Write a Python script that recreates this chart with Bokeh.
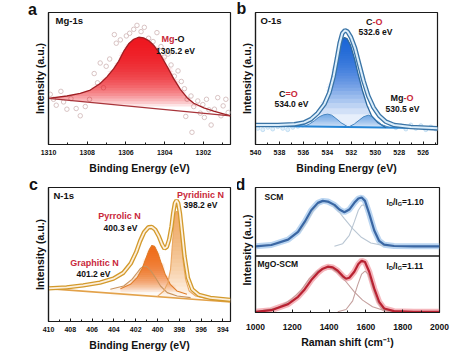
import numpy as np
from bokeh.plotting import figure
from bokeh.layouts import row, column
from bokeh.models import Range1d, FixedTicker, SingleIntervalTicker, Label, Span
from bokeh.embed import file_html
from bokeh.resources import INLINE

FONT = "Liberation Sans"
RED_TXT = "#c9283a"

# ---------------- (a) Mg-1s ----------------
mg_be = [1310.00, 1309.05, 1308.36, 1307.84, 1307.33, 1306.98, 1306.64, 1306.38, 1306.12, 1305.86,
         1305.60, 1305.34, 1305.09, 1304.83, 1304.57, 1304.22, 1303.88, 1303.53, 1303.19, 1302.84,
         1302.50, 1301.98, 1301.47, 1300.60]
mg_fit = [140, 147, 155, 165, 185, 205, 229, 252, 282, 305, 319, 325, 323, 315, 301, 272, 237, 199,
          167, 142, 125, 111, 101, 87]
mg_bg = [140.0, 134.7, 130.8, 127.8, 124.9, 123.0, 121.0, 119.6, 118.1, 116.7, 115.2, 113.7, 112.3,
         110.8, 109.4, 107.4, 105.5, 103.5, 101.6, 99.6, 97.7, 94.8, 91.9, 87.0]
mg_raw_be = [1309.91, 1309.74, 1309.60, 1309.36, 1309.22, 1309.05, 1308.84, 1308.57, 1308.36, 1308.10,
             1307.88, 1307.64, 1307.47, 1307.33, 1307.16, 1307.02, 1306.84, 1306.60, 1306.50, 1306.29,
             1305.98, 1305.81, 1305.60, 1305.43, 1305.22, 1305.05, 1304.83, 1304.60, 1304.40, 1304.19,
             1304.02, 1303.83, 1303.67, 1303.50, 1303.31, 1303.14, 1302.98, 1302.84, 1302.64, 1302.50,
             1302.29, 1302.16, 1302.03, 1301.95, 1301.84, 1301.71, 1301.60, 1301.43, 1301.26, 1301.09,
             1300.98, 1300.84, 1300.72, 1302.59, 1302.91]
mg_raw = [152, 137, 119, 161, 129, 107, 139, 109, 87, 115, 137, 215, 187, 247, 172, 237, 259, 333, 307,
          317, 329, 337, 349, 361, 342, 355, 322, 312, 339, 297, 265, 274, 241, 207, 223, 191, 169, 137,
          147, 115, 132, 95, 121, 82, 137, 105, 59, 107, 142, 87, 117, 137, 97, 37, 85]

# ---------------- (b) O-1s ----------------
o_be = [540.00, 538.14, 536.75, 535.92, 535.36, 534.81, 534.25, 533.83, 533.47, 533.19, 532.97, 532.75,
        532.53, 532.31, 532.03, 531.69, 531.33, 530.97, 530.58, 530.14, 529.67, 529.11, 528.42, 527.03,
        524.81]
o_fit = [59, 59, 61, 67, 77, 95, 122, 157, 207, 262, 307, 337, 346, 342, 325, 292, 242, 192, 147, 112,
         87, 69, 59, 53, 49]
o_bg_be = [540.0, 524.81]
o_bg = [57, 49]
o_co_be = [537.31, 536.19, 535.36, 534.67, 534.11, 533.69, 533.36, 533.08, 532.81, 532.58, 532.36,
           532.08, 531.75, 531.42, 531.06, 530.69, 530.31, 529.81, 529.11]
o_co = [56, 61, 72, 97, 137, 187, 242, 287, 317, 324, 321, 302, 262, 212, 162, 119, 87, 67, 51]
o_cdo_be = [535.92, 535.50, 535.08, 534.67, 534.31, 533.97, 533.64, 533.28, 532.86, 532.31]
o_cdo = [55, 62, 72, 84, 90, 92, 89, 79, 66, 54]
o_mgo_be = [532.17, 531.75, 531.33, 530.97, 530.58, 530.22, 529.86, 529.47, 528.83]
o_mgo = [54, 62, 74, 84, 89, 84, 72, 60, 52]
o_raw_be = [539.81, 539.39, 538.97, 538.56, 538.14, 537.72, 537.31, 536.89, 536.47, 536.06, 528.69,
            528.28, 527.86, 527.44, 527.03, 526.61, 526.19, 525.78, 525.36, 524.94]
o_raw = [49, 45, 52, 47, 54, 49, 45, 52, 55, 59, 62, 51, 57, 47, 59, 49, 57, 45, 53, 47]

# ---------------- (c) N-1s ----------------
n_be = [410.00, 408.34, 406.81, 405.28, 404.05, 403.13, 402.45, 401.96, 401.60, 401.23, 400.83, 400.52,
        400.21, 399.88, 399.57, 399.36, 399.14, 398.93, 398.71, 398.56, 398.40, 398.25, 398.10, 397.94,
        397.76, 397.52, 397.21, 396.81, 396.20, 395.15, 393.31]
n_fit = [100, 103, 109, 117, 129, 147, 175, 209, 242, 269, 284, 285, 277, 257, 232, 220, 225, 247, 287,
         327, 357, 365, 357, 327, 272, 197, 132, 97, 80, 71, 65]
n_bg_be = [410.0, 393.31]
n_bg = [99, 59]
n_pyr_be = [403.40, 402.48, 401.87, 401.41, 401.04, 400.74, 400.52, 400.28, 400.00, 399.69, 399.29,
            398.83, 398.22, 397.30]
n_pyr = [99, 112, 132, 159, 192, 217, 229, 227, 209, 179, 142, 112, 92, 82]
n_gra_be = [404.33, 403.10, 402.34, 401.87, 401.56, 401.26, 400.95, 400.58, 400.18, 399.72, 399.11,
            398.19, 396.96]
n_gra = [97, 107, 127, 147, 160, 167, 165, 152, 132, 107, 87, 77, 72]
n_pyd_be = [400.03, 399.42, 399.05, 398.80, 398.62, 398.47, 398.31, 398.16, 398.01, 397.85, 397.67,
            397.42, 397.09, 396.50, 395.43]
n_pyd = [75, 92, 117, 157, 237, 307, 331, 332, 312, 257, 187, 127, 92, 77, 69]

# ---------------- (d) Raman ----------------
scm_x = [1000, 1086, 1177, 1231, 1267, 1303, 1339, 1366, 1393, 1429, 1456, 1483, 1510, 1537, 1559,
         1577, 1595, 1618, 1645, 1672, 1699, 1753, 1861, 2000]
scm_fit = [29, 33, 49, 72, 102, 137, 159, 165, 163, 153, 139, 131, 139, 159, 172, 175, 165, 127, 77,
           45, 34, 30, 29, 29]
scm_d_x = [1000, 1123, 1195, 1249, 1285, 1321, 1357, 1378, 1411, 1447, 1483, 1528, 1573, 1627, 1699, 1807]
scm_d = [29, 37, 55, 77, 109, 142, 162, 164, 157, 137, 112, 82, 57, 39, 31, 29]
scm_g_x = [1429, 1474, 1510, 1537, 1559, 1577, 1591, 1609, 1627, 1649, 1672, 1708, 1771]
scm_g = [29, 37, 62, 102, 137, 152, 153, 139, 107, 67, 42, 32, 29]
mgo_x = [1000, 1086, 1177, 1231, 1267, 1303, 1339, 1366, 1393, 1420, 1447, 1474, 1492, 1510, 1537,
         1559, 1577, 1595, 1618, 1645, 1672, 1699, 1753, 1861, 2000]
mgo_fit = [2, 7, 25, 47, 69, 97, 119, 131, 137, 135, 125, 109, 101, 104, 122, 145, 155, 151, 122, 72,
           32, 12, 4, 2, 2]
mgo_d_x = [1000, 1123, 1195, 1249, 1294, 1339, 1378, 1411, 1447, 1492, 1537, 1582, 1636, 1699, 1807]
mgo_d = [2, 15, 39, 67, 102, 125, 135, 133, 119, 92, 62, 37, 17, 6, 2]
mgo_g_x = [1447, 1492, 1528, 1555, 1577, 1595, 1613, 1636, 1659, 1685, 1726, 1789]
mgo_g = [2, 9, 35, 82, 115, 124, 115, 77, 37, 12, 3, 2]
ratio_labels = ["1.10", "1.11"]
sample_labels = ["SCM", "MgO-SCM"]
panel_letters = ["a", "b", "c", "d"]


def make_fig(w, h, xr, yr, left, right, top, bottom, xlabel, interval, lab_standoff, title_standoff,
             tick_size="7px"):
    p = figure(width=w, height=h, x_range=Range1d(*xr), y_range=Range1d(*yr),
               output_backend="svg", toolbar_location=None,
               min_border_left=left, min_border_right=right,
               min_border_top=top, min_border_bottom=bottom)
    p.frame_align = False
    p.xgrid.visible = False
    p.ygrid.visible = False
    p.background_fill_color = "white"
    p.border_fill_color = "white"
    p.outline_line_color = "#1a1a1a"
    p.outline_line_width = 1.2
    p.outline_line_alpha = 1.0
    xa = p.xaxis[0]
    xa.ticker = SingleIntervalTicker(interval=interval, num_minor_ticks=2)
    xa.major_tick_in = 3
    xa.major_tick_out = 0
    xa.minor_tick_in = 2
    xa.minor_tick_out = 0
    xa.axis_line_width = 1.2
    xa.axis_line_color = "#1a1a1a"
    xa.major_tick_line_color = "#1a1a1a"
    xa.minor_tick_line_color = "#1a1a1a"
    xa.major_label_text_font = FONT
    xa.major_label_text_font_style = "bold"
    xa.major_label_text_font_size = tick_size
    xa.major_label_text_color = "#111111"
    xa.major_label_standoff = lab_standoff
    xa.axis_label = xlabel
    xa.axis_label_text_font = FONT
    xa.axis_label_text_font_style = "bold"
    xa.axis_label_text_font_size = "10.5px"
    xa.axis_label_text_color = "#111111"
    xa.axis_label_standoff = title_standoff
    ya = p.yaxis[0]
    ya.ticker = FixedTicker(ticks=[])
    ya.axis_line_width = 1.2
    ya.axis_line_color = "#1a1a1a"
    ya.axis_label = "Intensity (a.u.)"
    ya.axis_label_text_font = FONT
    ya.axis_label_text_font_style = "bold"
    ya.axis_label_text_font_size = "10.5px"
    ya.axis_label_text_color = "#111111"
    ya.axis_label_standoff = 3
    return p


def grad_fill(p, x, base, top, color, lo, hi, n=22, amax=0.93, power=1.0):
    x = np.asarray(x, dtype=float)
    top = np.asarray(top, dtype=float)
    base = np.asarray(base, dtype=float) if np.ndim(base) else np.full_like(top, base)
    a = 1 - (1 - amax) ** (1.0 / n)
    for k in range(n):
        lev = lo + (hi - lo) * (k / n) ** power
        y1 = np.maximum(base, lev)
        y2 = np.maximum(top, y1)
        p.varea(x=x, y1=y1, y2=y2, fill_color=color, fill_alpha=a)


def lab(p, x, y, text, size="8.5px", color="#111111", align="left", baseline="middle"):
    p.add_layout(Label(x=x, y=y, x_units="screen", y_units="screen", text=text,
                       text_font=FONT, text_font_size=size, text_font_style="bold",
                       text_color=color, text_align=align, text_baseline=baseline))


def letter(p, text, side, x, y):
    p.add_layout(Label(x=x, y=y, x_units="screen", y_units="screen", text=text,
                       text_font=FONT, text_font_size="16px", text_font_style="bold",
                       text_color="#111111", text_align="center", text_baseline="middle"), side)


# ---------- panel a ----------
pa = make_fig(237, 176, (1310, 1300.6), (0, 400), 48, 7, 12, 30, "Binding Energy (eV)", 2, 5, 4)
pa.scatter(mg_raw_be, mg_raw, size=4.5, marker="circle", fill_color=None,
           line_color="#d4bcbc", line_width=0.9)
grad_fill(pa, mg_be, mg_bg, mg_fit, "#ea0f1b", 115, 325, n=26, amax=0.96)
pa.line(mg_be, mg_fit, line_color="#9e1f24", line_width=1.3)
pa.line([mg_be[0], mg_be[-1]], [mg_bg[0], mg_bg[-1]], line_color="#a8343a", line_width=1.3)
letter(pa, panel_letters[0], "left", 11, 135)
lab(pa, 7, 124, "Mg-1s", size="9.5px")
lab(pa, 126, 106, "Mg", size="9px", color=RED_TXT, align="right")
lab(pa, 126, 106, "-O", size="9px", align="left")
lab(pa, 127, 94, "1305.2 eV", size="8.5px", align="center")

# ---------- panel b ----------
pb = make_fig(237, 176, (540, 524.8), (0, 400), 18, 37, 12, 30, "Binding Energy (eV)", 2, 5, 4)
pb.scatter(o_raw_be, o_raw, size=4, marker="circle", fill_color="#cfe6f7", fill_alpha=0.6,
           line_color="#b7d8f0", line_width=0.8)
grad_fill(pb, o_co_be, 50, o_co, "#1766d6", 55, 324, n=28, amax=0.95, power=0.6)
grad_fill(pb, o_cdo_be, 50, o_cdo, "#2a7ad8", 52, 92, n=10, amax=0.6)
grad_fill(pb, o_mgo_be, 50, o_mgo, "#2a7ad8", 52, 89, n=10, amax=0.6)
pb.line(o_bg_be, o_bg, line_color="#2585d6", line_width=2)
pb.line(o_co_be, o_co, line_color="#2e6a9e", line_width=1.3)
pb.line(o_cdo_be, o_cdo, line_color="#4a88c0", line_width=1.0)
pb.line(o_mgo_be, o_mgo, line_color="#4a88c0", line_width=1.0)
pb.line(o_be, o_fit, line_color="#3a74a6", line_width=4.6)
pb.line(o_be, o_fit, line_color="#dceefb", line_width=2.0)
letter(pb, panel_letters[1], "right", -196, 136)
lab(pb, 5, 124, "O-1s", size="9.5px")
lab(pb, 117, 123, "C", size="9px", align="right")
lab(pb, 117, 123, "-O", size="9px", color=RED_TXT, align="left")
lab(pb, 120, 113, "532.6 eV", align="center")
lab(pb, 30, 51, "C", size="9px", align="right")
lab(pb, 30, 51, "=O", size="9px", color=RED_TXT, align="left")
lab(pb, 36, 41, "534.0 eV", align="center")
lab(pb, 148, 47, "Mg", size="9px", align="right")
lab(pb, 148, 47, "-O", size="9px", color=RED_TXT, align="left")
lab(pb, 147, 36, "530.5 eV", align="center")

# ---------- panel c ----------
pc = make_fig(237, 177, (410, 393.3), (0, 404), 48, 7, 11, 31, "Binding Energy (eV)", 2, 5, 4)
grad_fill(pc, n_pyd_be, 60, n_pyd, "#f5a24a", 70, 332, n=22, amax=0.8)
grad_fill(pc, n_gra_be, 60, n_gra, "#e9a060", 75, 167, n=10, amax=0.35)
grad_fill(pc, n_pyr_be, 60, n_pyr, "#ee6a12", 90, 229, n=22, amax=0.95)
pc.line(n_bg_be, n_bg, line_color="#e3a24a", line_width=1.6)
pc.line(n_gra_be, n_gra, line_color="#c8935e", line_width=1.1)
pc.line(n_pyr_be, n_pyr, line_color="#e07d2a", line_width=1.1)
pc.line(n_pyd_be, n_pyd, line_color="#eaa864", line_width=1.1)
pc.line(n_be, n_fit, line_color="#d39a2c", line_width=4.4)
pc.line(n_be, n_fit, line_color="#fcefdc", line_width=1.8)
letter(pc, panel_letters[2], "left", 12, 137)
lab(pc, 5, 126, "N-1s", size="9.5px")
lab(pc, 152, 127, "Pyridinic N", size="9px", color=RED_TXT, align="center")
lab(pc, 152, 117, "398.2 eV", align="center")
lab(pc, 71, 106, "Pyrrolic N", size="9px", color=RED_TXT, align="center")
lab(pc, 72, 94, "400.3 eV", align="center")
lab(pc, 46, 59, "Graphitic N", size="9px", color=RED_TXT, align="center")
lab(pc, 45, 48, "401.2 eV", align="center")

# ---------- panel d ----------
OFF = 169
pd_ = make_fig(237, 177, (1000, 2000), (0, 374), 17, 35, 11, 41, "Raman shift (cm\u207b\u00b9)", 200, 11, 3,
               tick_size="8.5px")
scm_fit_s = np.asarray(scm_fit) + OFF
scm_d_s = np.asarray(scm_d) + OFF
scm_g_s = np.asarray(scm_g) + OFF
pd_.line(scm_x, scm_fit_s, line_color="#a9cbee", line_width=6, line_alpha=0.8)
pd_.line(scm_d_x, scm_d_s, line_color="#b9c6d3", line_width=1.1)
pd_.line(scm_g_x, scm_g_s, line_color="#b9c6d3", line_width=1.1)
pd_.line(scm_x, scm_fit_s, line_color="#3a67a4", line_width=2.2)
pd_.line(mgo_x, mgo_fit, line_color="#f2a4ab", line_width=6, line_alpha=0.8)
pd_.line(mgo_d_x, mgo_d, line_color="#c4a09e", line_width=1.1)
pd_.line(mgo_g_x, mgo_g, line_color="#c4a09e", line_width=1.1)
pd_.line(mgo_x, mgo_fit, line_color="#b82232", line_width=2.2)
pd_.add_layout(Span(location=OFF, dimension="width", line_color="#1a1a1a", line_width=1.5))
letter(pd_, panel_letters[3], "right", -199, 128)
lab(pd_, 9, 116, sample_labels[0], size="8.5px")
lab(pd_, 2, 49, sample_labels[1], size="8.5px")
for yy, r in zip([111, 47], ratio_labels):
    x0 = 131
    lab(pd_, x0, yy, "I", size="8.5px")
    lab(pd_, x0 + 2.4, yy - 2.5, "D", size="5.5px")
    lab(pd_, x0 + 6.4, yy, "/I", size="8.5px")
    lab(pd_, x0 + 11.2, yy - 2.5, "G", size="5.5px")
    lab(pd_, x0 + 15.6, yy, "=" + r, size="8.5px")

layout = column(row(pa, pb), row(pc, pd_))
open("out.html", "w").write(file_html(layout, INLINE))
